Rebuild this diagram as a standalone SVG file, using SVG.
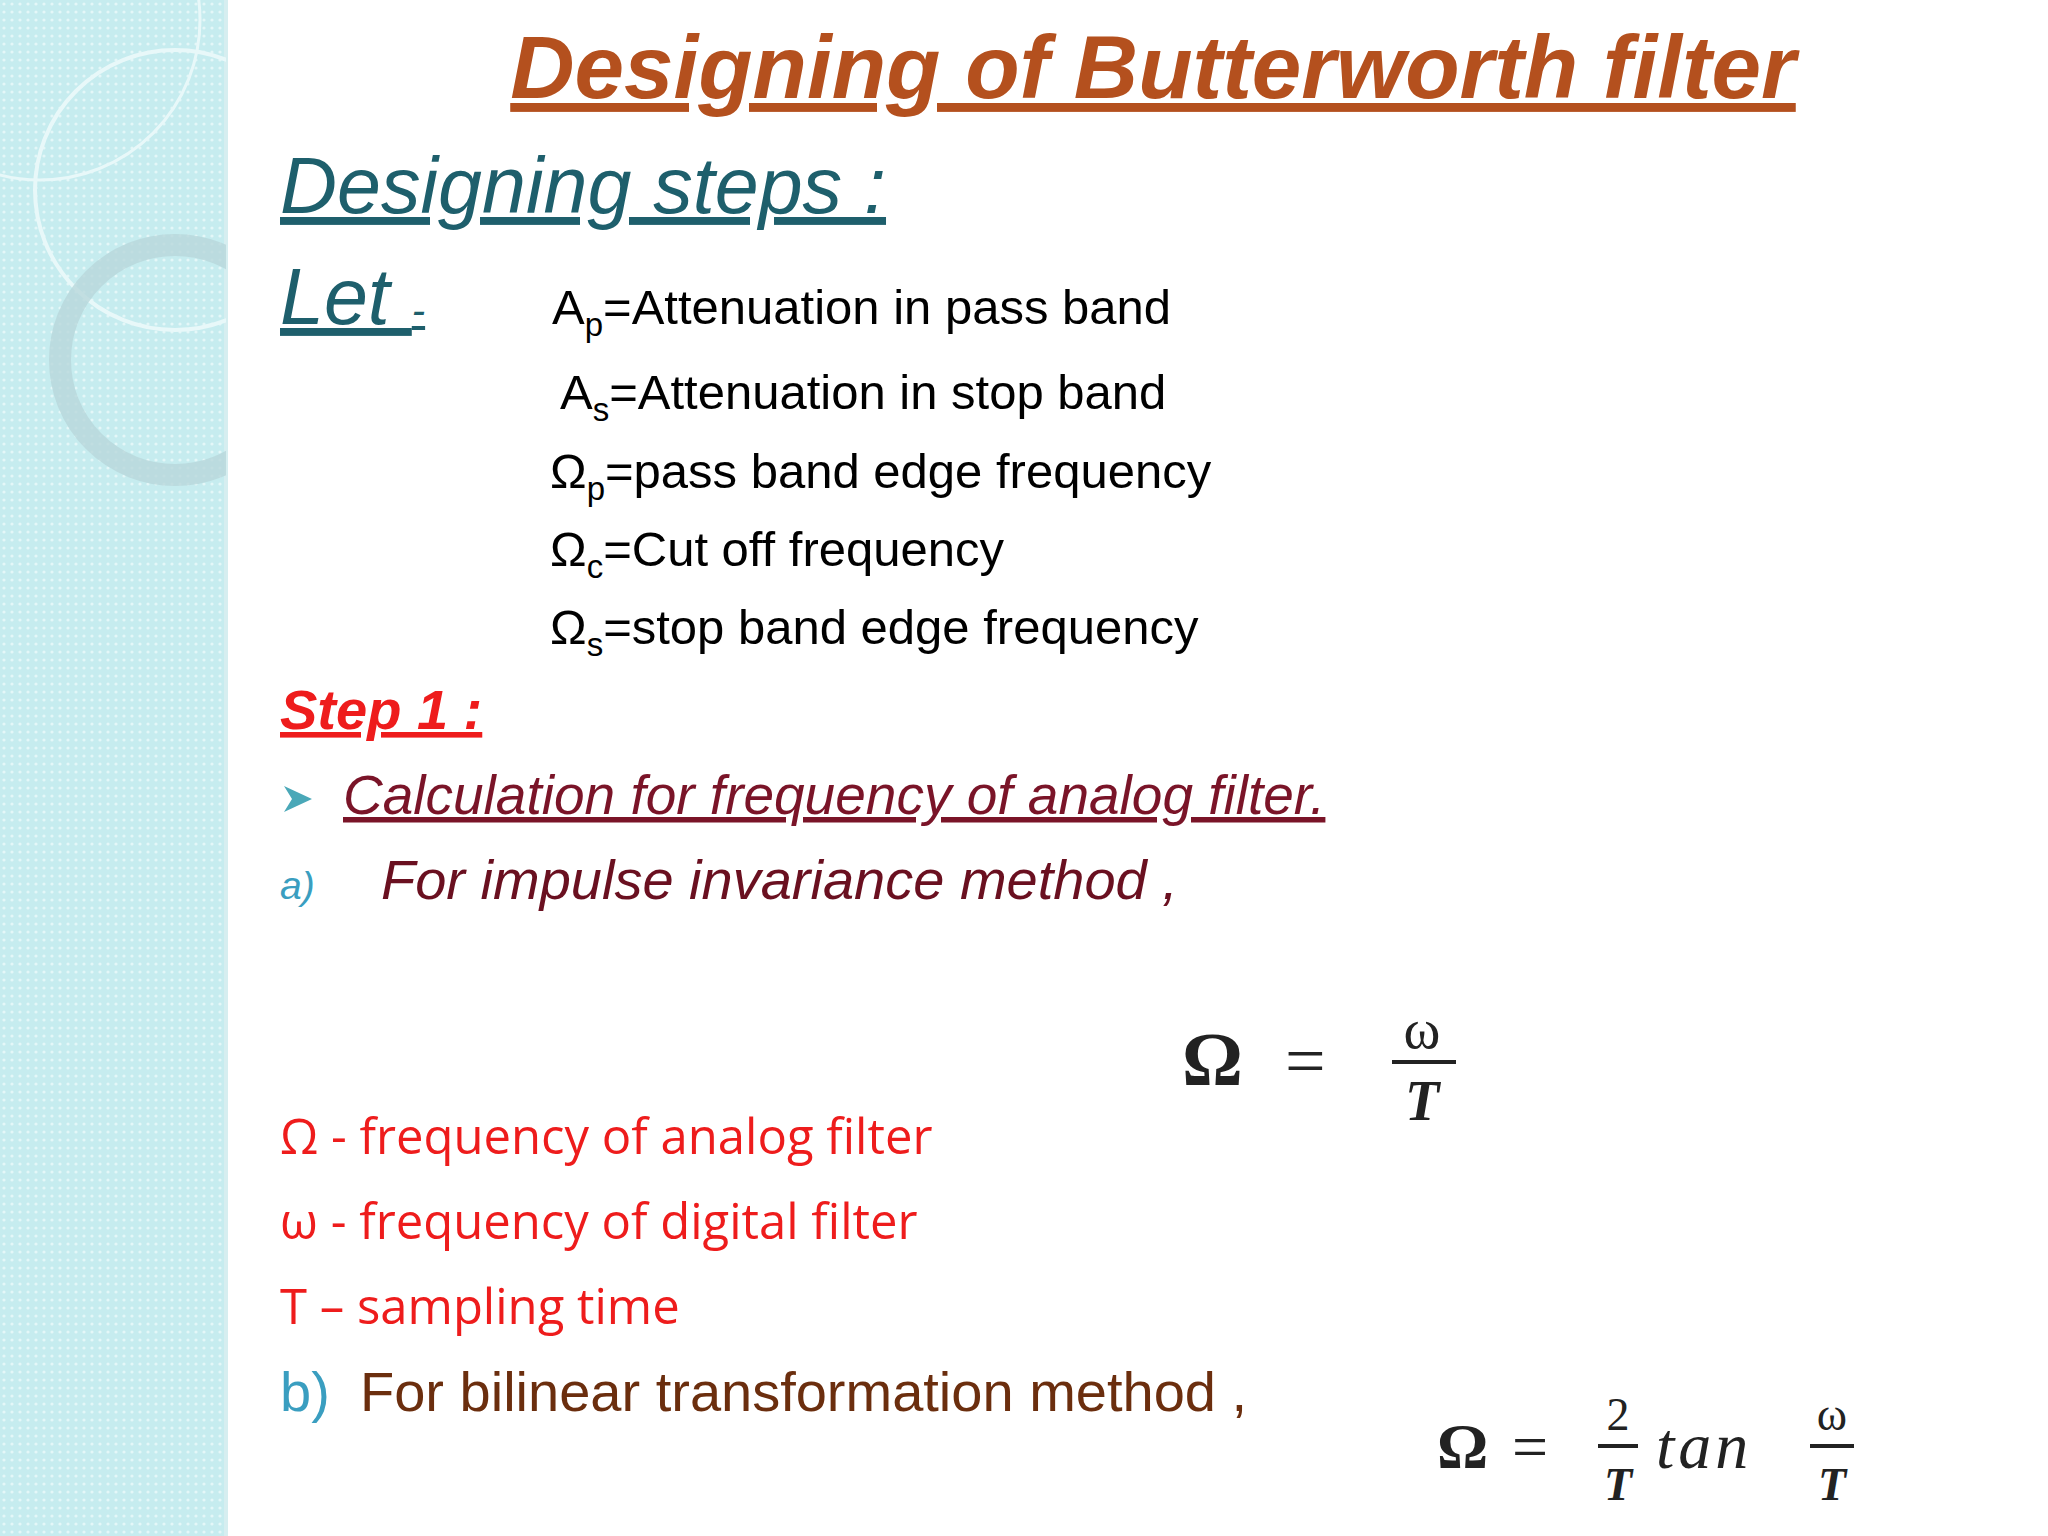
<svg xmlns="http://www.w3.org/2000/svg" width="2048" height="1536" viewBox="0 0 2048 1536">
<defs>
<pattern id="dots" width="8" height="8" patternUnits="userSpaceOnUse">
<rect width="8" height="8" fill="#c6ecef"/>
<circle cx="4" cy="4" r="1.6" fill="#e4f7f8"/>
</pattern>
<clipPath id="side"><rect x="0" y="0" width="226" height="1536"/></clipPath>
<style>
.item{font-family:"Liberation Sans",Arial,sans-serif;font-size:49px;fill:#000}
.red{font-family:"Open Sans","Liberation Sans",sans-serif;font-size:49px;fill:#ee1c1c}
.eq{font-family:"Liberation Serif","Times New Roman",serif;fill:#222}
</style>
</defs>
<rect width="2048" height="1536" fill="#ffffff"/>
<g id="sidebar">
<rect x="0" y="0" width="226" height="1536" fill="url(#dots)"/>
<rect x="224" y="0" width="4" height="1536" fill="#d6eef0"/>
<g clip-path="url(#side)">
<circle cx="175" cy="190" r="140" fill="none" stroke="#e8f8f9" stroke-width="4"/>
<circle cx="175" cy="360" r="115" fill="none" stroke="#b8d7db" stroke-width="22" opacity="0.8"/>
<circle cx="40" cy="20" r="160" fill="none" stroke="#e8f8f9" stroke-width="3"/>
</g>
</g>
<g id="title">
<text x="1153" y="98" text-anchor="middle" font-family="Liberation Sans,Arial,sans-serif" font-size="89" font-weight="bold" font-style="italic" fill="#b4501e" text-decoration="underline">Designing of Butterworth filter</text>
</g>
<g id="steps">
<text x="280" y="213" font-family="Liberation Sans,Arial,sans-serif" font-size="79" font-style="italic" fill="#1e5f6c" text-decoration="underline">Designing steps :</text>
<text x="280" y="324" font-family="Liberation Sans,Arial,sans-serif" font-size="79" font-style="italic" fill="#1e5f6c" text-decoration="underline">Let <tspan font-size="40">-</tspan></text>
</g>
<g id="defs-list">
<text class="item" x="552" y="324">A<tspan font-size="33" dy="12">p</tspan><tspan dy="-12">=Attenuation in pass band</tspan></text>
<text class="item" x="560" y="409">A<tspan font-size="33" dy="12">s</tspan><tspan dy="-12">=Attenuation in stop band</tspan></text>
<text class="item" x="550" y="488">Ω<tspan font-size="33" dy="12">p</tspan><tspan dy="-12">=pass band edge frequency</tspan></text>
<text class="item" x="550" y="566">Ω<tspan font-size="33" dy="12">c</tspan><tspan dy="-12">=Cut off frequency</tspan></text>
<text class="item" x="550" y="644">Ω<tspan font-size="33" dy="12">s</tspan><tspan dy="-12">=stop band edge frequency</tspan></text>
</g>
<g id="step1">
<text x="280" y="729" font-family="Liberation Sans,Arial,sans-serif" font-size="56" font-weight="bold" font-style="italic" fill="#ee1c1c" text-decoration="underline">Step 1 :</text>
<path d="M284 786 L312 799 L284 812 L292 799 Z" fill="#4aa8b8"/>
<text x="343" y="814" font-family="Liberation Sans,Arial,sans-serif" font-size="55" font-style="italic" fill="#7a1428" text-decoration="underline">Calculation for frequency of analog filter.</text>
<text x="280" y="899" font-family="Liberation Sans,Arial,sans-serif" font-size="39" font-style="italic" fill="#3a9ec0">a)</text>
<text x="381" y="899" font-family="Liberation Sans,Arial,sans-serif" font-size="56" font-style="italic" fill="#6a1020">For impulse invariance method ,</text>
</g>
<g id="eq1" class="eq">
<text x="1182" y="1085" font-size="76" font-weight="bold">Ω</text>
<text x="1285" y="1085" font-size="72">=</text>
<text x="1422" y="1048" font-size="56" text-anchor="middle">ω</text>
<line x1="1392" y1="1062" x2="1456" y2="1062" stroke="#222" stroke-width="4"/>
<text x="1422" y="1120" font-size="56" font-style="italic" font-weight="bold" text-anchor="middle">T</text>
</g>
<g id="legend">
<text class="red" x="280" y="1154">Ω - frequency of analog filter</text>
<text class="red" x="280" y="1239">ω - frequency of digital filter</text>
<text class="red" x="280" y="1324">T – sampling time</text>
</g>
<g id="b">
<text x="280" y="1411" font-family="Liberation Sans,Arial,sans-serif" font-size="56" fill="#3a9ec0">b)</text>
<text x="360" y="1411" font-family="Liberation Sans,Arial,sans-serif" font-size="56" fill="#6b2e0e">For bilinear transformation method ,</text>
</g>
<g id="eq2" class="eq">
<text x="1437" y="1468" font-size="64" font-weight="bold">Ω</text>
<text x="1512" y="1468" font-size="64">=</text>
<text x="1618" y="1430" font-size="46" text-anchor="middle">2</text>
<line x1="1598" y1="1446" x2="1638" y2="1446" stroke="#222" stroke-width="4"/>
<text x="1618" y="1500" font-size="46" font-style="italic" font-weight="bold" text-anchor="middle">T</text>
<text x="1656" y="1468" font-size="66" font-style="italic" letter-spacing="4">tan</text>
<text x="1832" y="1430" font-size="46" text-anchor="middle">ω</text>
<line x1="1810" y1="1446" x2="1854" y2="1446" stroke="#222" stroke-width="4"/>
<text x="1832" y="1500" font-size="46" font-style="italic" font-weight="bold" text-anchor="middle">T</text>
</g>
</svg>
